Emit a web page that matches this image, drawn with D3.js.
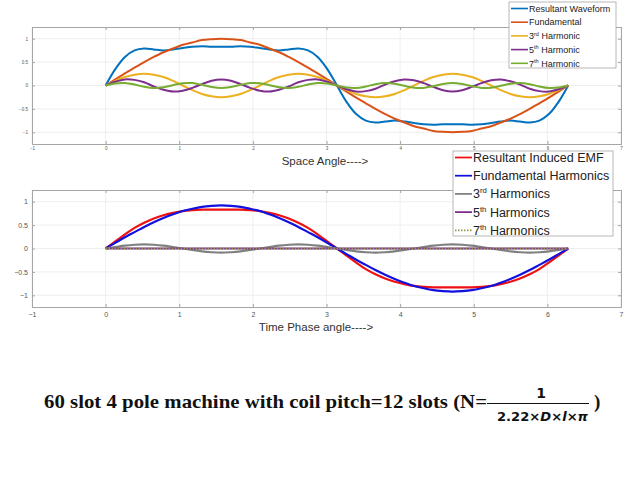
<!DOCTYPE html>
<html>
<head>
<meta charset="utf-8">
<script src="https://cdn.jsdelivr.net/npm/d3@7"></script>
<style>
  body { margin: 0; background: #fff; }
  svg { display: block; font-family: "Liberation Sans", Arial, sans-serif; }
</style>
</head>
<body>
<svg id="chart" width="638" height="478"></svg>
<script>
// angle samples (rad), step pi/24 from 0 to 2*pi
var angles = [0, 0.131, 0.262, 0.393, 0.524, 0.654, 0.785, 0.916, 1.047, 1.178, 1.309, 1.44, 1.571,
  1.702, 1.833, 1.963, 2.094, 2.225, 2.356, 2.487, 2.618, 2.749, 2.88, 3.011, 3.142,
  3.272, 3.403, 3.534, 3.665, 3.796, 3.927, 4.058, 4.189, 4.32, 4.451, 4.581, 4.712,
  4.843, 4.974, 5.105, 5.236, 5.367, 5.498, 5.629, 5.76, 5.891, 6.021, 6.152, 6.283];

// top plot: space distribution
var resultantWave = [0, 0.35, 0.61, 0.75, 0.79, 0.77, 0.75, 0.77, 0.80, 0.83, 0.84, 0.83, 0.83,
  0.83, 0.84, 0.83, 0.80, 0.77, 0.75, 0.77, 0.79, 0.75, 0.61, 0.35, 0,
  -0.35, -0.61, -0.75, -0.79, -0.77, -0.75, -0.77, -0.80, -0.83, -0.84, -0.83, -0.83,
  -0.83, -0.84, -0.83, -0.80, -0.77, -0.75, -0.77, -0.79, -0.75, -0.61, -0.35, 0];
var fundamental = [0, 0.13, 0.26, 0.38, 0.50, 0.61, 0.71, 0.79, 0.87, 0.92, 0.97, 0.99, 1.00,
  0.99, 0.97, 0.92, 0.87, 0.79, 0.71, 0.61, 0.50, 0.38, 0.26, 0.13, 0,
  -0.13, -0.26, -0.38, -0.50, -0.61, -0.71, -0.79, -0.87, -0.92, -0.97, -0.99, -1.00,
  -0.99, -0.97, -0.92, -0.87, -0.79, -0.71, -0.61, -0.50, -0.38, -0.26, -0.13, 0];
var harmonic3 = [0, 0.10, 0.18, 0.23, 0.25, 0.23, 0.18, 0.10, 0, -0.10, -0.18, -0.23, -0.25,
  -0.23, -0.18, -0.10, 0, 0.10, 0.18, 0.23, 0.25, 0.23, 0.18, 0.10, 0,
  -0.10, -0.18, -0.23, -0.25, -0.23, -0.18, -0.10, 0, 0.10, 0.18, 0.23, 0.25,
  0.23, 0.18, 0.10, 0, -0.10, -0.18, -0.23, -0.25, -0.23, -0.18, -0.10, 0];
var harmonic5 = [0, 0.08, 0.13, 0.12, 0.07, -0.02, -0.09, -0.13, -0.11, -0.05, 0.03, 0.10, 0.13,
  0.10, 0.03, -0.05, -0.11, -0.13, -0.09, -0.02, 0.07, 0.12, 0.13, 0.08, 0,
  -0.08, -0.13, -0.12, -0.07, 0.02, 0.09, 0.13, 0.11, 0.05, -0.03, -0.10, -0.13,
  -0.10, -0.03, 0.05, 0.11, 0.13, 0.09, 0.02, -0.07, -0.12, -0.13, -0.08, 0];
var harmonic7 = [0, 0.044, 0.053, 0.021, -0.028, -0.055, -0.039, 0.007, 0.048, 0.051, 0.014, -0.033, -0.055,
  -0.033, 0.014, 0.051, 0.048, 0.007, -0.039, -0.055, -0.028, 0.021, 0.053, 0.044, 0,
  -0.044, -0.053, -0.021, 0.028, 0.055, 0.039, -0.007, -0.048, -0.051, -0.014, 0.033, 0.055,
  0.033, -0.014, -0.051, -0.048, -0.007, 0.039, 0.055, 0.028, -0.021, -0.053, -0.044, 0];

// bottom plot: induced emf vs time phase
var emfResultant = [0, 0.15, 0.30, 0.44, 0.55, 0.64, 0.71, 0.76, 0.80, 0.82, 0.83, 0.83, 0.83,
  0.83, 0.83, 0.82, 0.80, 0.76, 0.71, 0.64, 0.55, 0.44, 0.30, 0.15, 0,
  -0.15, -0.30, -0.44, -0.55, -0.64, -0.71, -0.76, -0.80, -0.82, -0.83, -0.83, -0.83,
  -0.83, -0.83, -0.82, -0.80, -0.76, -0.71, -0.64, -0.55, -0.44, -0.30, -0.15, 0];
var emfFundamental = [0, 0.12, 0.24, 0.35, 0.46, 0.56, 0.65, 0.73, 0.80, 0.85, 0.89, 0.91, 0.92,
  0.91, 0.89, 0.85, 0.80, 0.73, 0.65, 0.56, 0.46, 0.35, 0.24, 0.12, 0,
  -0.12, -0.24, -0.35, -0.46, -0.56, -0.65, -0.73, -0.80, -0.85, -0.89, -0.91, -0.92,
  -0.91, -0.89, -0.85, -0.80, -0.73, -0.65, -0.56, -0.46, -0.35, -0.24, -0.12, 0];
var emf3 = [0, 0.03, 0.06, 0.08, 0.09, 0.08, 0.06, 0.03, 0, -0.03, -0.06, -0.08, -0.09,
  -0.08, -0.06, -0.03, 0, 0.03, 0.06, 0.08, 0.09, 0.08, 0.06, 0.03, 0,
  -0.03, -0.06, -0.08, -0.09, -0.08, -0.06, -0.03, 0, 0.03, 0.06, 0.08, 0.09,
  0.08, 0.06, 0.03, 0, -0.03, -0.06, -0.08, -0.09, -0.08, -0.06, -0.03, 0];
var emf5 = [0, 0, 0, 0, 0, 0, 0, 0, 0, 0, 0, 0, 0, 0, 0, 0, 0, 0, 0, 0, 0, 0, 0, 0, 0,
  0, 0, 0, 0, 0, 0, 0, 0, 0, 0, 0, 0, 0, 0, 0, 0, 0, 0, 0, 0, 0, 0, 0, 0];
var emf7 = [0, 0, 0, 0, 0, 0, 0, 0, 0, 0, 0, 0, 0, 0, 0, 0, 0, 0, 0, 0, 0, 0, 0, 0, 0,
  0, 0, 0, 0, 0, 0, 0, 0, 0, 0, 0, 0, 0, 0, 0, 0, 0, 0, 0, 0, 0, 0, 0, 0];

var xTicks = [-1, 0, 1, 2, 3, 4, 5, 6, 7];
var yTicks = [-1, -0.5, 0, 0.5, 1];

var topSeries = [
  {name: "Resultant Waveform", values: resultantWave, color: "#0072BD"},
  {name: "Fundamental", values: fundamental, color: "#D95319"},
  {name: "3", sup: "rd", rest: " Harmonic", values: harmonic3, color: "#EDB120"},
  {name: "5", sup: "th", rest: " Harmonic", values: harmonic5, color: "#7E2F8E"},
  {name: "7", sup: "th", rest: " Harmonic", values: harmonic7, color: "#77AC30"}
];
var bottomSeries = [
  {name: "Resultant Induced EMF", values: emfResultant, color: "#ee1111"},
  {name: "Fundamental Harmonics", values: emfFundamental, color: "#1010e0"},
  {name: "3", sup: "rd", rest: " Harmonics", values: emf3, color: "#808080"},
  {name: "5", sup: "th", rest: " Harmonics", values: emf5, color: "#7E2F8E"},
  {name: "7", sup: "th", rest: " Harmonics", values: emf7, color: "#8f9a50", dash: "1.5,1.5"}
];

var svg = d3.select("#chart");

function drawPanel(opt) {
  var x = d3.scaleLinear().domain([-1, 7]).range([opt.left, opt.right]);
  var y = d3.scaleLinear().domain([-1.25, 1.25]).range([opt.bottom, opt.top]);
  var g = svg.append("g");

  // grid
  g.selectAll(".gx").data(xTicks).enter().append("line")
    .attr("x1", function(d) { return x(d); }).attr("x2", function(d) { return x(d); })
    .attr("y1", opt.top).attr("y2", opt.bottom)
    .attr("stroke", "#ebebeb").attr("stroke-width", 0.8);
  g.selectAll(".gy").data(yTicks).enter().append("line")
    .attr("x1", opt.left).attr("x2", opt.right)
    .attr("y1", function(d) { return y(d); }).attr("y2", function(d) { return y(d); })
    .attr("stroke", "#ebebeb").attr("stroke-width", 0.8);

  // axes with inward ticks
  var xAxis = g.append("g").attr("transform", "translate(0," + opt.bottom + ")")
    .call(d3.axisBottom(x).tickValues(xTicks).tickSize(-3).tickPadding(opt.xPad).tickFormat(d3.format("d")));
  var xTop = g.append("g").attr("transform", "translate(0," + opt.top + ")")
    .call(d3.axisTop(x).tickValues(xTicks).tickSize(-3).tickFormat(""));
  var yAxis = g.append("g").attr("transform", "translate(" + opt.left + ",0)")
    .call(d3.axisLeft(y).tickValues(yTicks).tickSize(-3).tickPadding(opt.yPad).tickFormat(d3.format("")));
  var yRight = g.append("g").attr("transform", "translate(" + opt.right + ",0)")
    .call(d3.axisRight(y).tickValues(yTicks).tickSize(-3).tickFormat(""));
  [xAxis, xTop, yAxis, yRight].forEach(function(a) {
    a.select(".domain").attr("stroke", "#a6a6a6");
    a.selectAll(".tick line").attr("stroke", "#a6a6a6");
    a.selectAll("text").attr("fill", "#555").style("font-size", opt.tickFont + "px")
      .style("font-family", "'Liberation Sans', Arial, sans-serif");
  });

  var line = d3.line()
    .x(function(d, i) { return x(angles[i]); })
    .y(function(d) { return y(d); })
    .curve(d3.curveCatmullRom.alpha(0.5));

  g.selectAll(".series").data(opt.series).enter().append("path")
    .attr("d", function(s) { return line(s.values); })
    .attr("fill", "none")
    .attr("stroke", function(s) { return s.color; })
    .attr("stroke-width", opt.lineWidth)
    .attr("stroke-dasharray", function(s) { return s.dash || null; });

  // axis label
  g.append("text")
    .attr("x", opt.labelX).attr("y", opt.labelY)
    .attr("text-anchor", "middle")
    .attr("fill", "#333").style("font-size", "11.5px")
    .text(opt.label);

  // legend
  var lg = opt.legend;
  g.append("rect")
    .attr("x", lg.x).attr("y", lg.y).attr("width", lg.w).attr("height", lg.h)
    .attr("fill", "#fff").attr("stroke", "#a6a6a6").attr("stroke-width", 0.8);
  var item = g.selectAll(".legend").data(opt.series).enter().append("g")
    .attr("transform", function(d, i) { return "translate(" + lg.x + "," + (lg.y + lg.first + i * lg.step) + ")"; });
  item.append("line")
    .attr("x1", 2).attr("x2", lg.sample).attr("y1", 0).attr("y2", 0)
    .attr("stroke", function(s) { return s.color; })
    .attr("stroke-width", opt.lineWidth * 0.8)
    .attr("stroke-dasharray", function(s) { return s.dash || null; });
  var txt = item.append("text")
    .attr("x", lg.sample + 1).attr("y", lg.font * 0.36)
    .attr("fill", "#222").style("font-size", lg.font + "px");
  txt.each(function(s) {
    var t = d3.select(this);
    if (s.sup) {
      t.append("tspan").text(s.name);
      t.append("tspan").attr("dy", -lg.font * 0.4).style("font-size", (lg.font * 0.62) + "px").text(s.sup);
      t.append("tspan").attr("dy", lg.font * 0.4).text(s.rest);
    } else {
      t.text(s.name);
    }
  });
}

drawPanel({
  left: 32, right: 621, top: 27, bottom: 144,
  series: topSeries, lineWidth: 2, tickFont: 4.5, xPad: 3, yPad: 4,
  label: "Space Angle---->", labelX: 325, labelY: 165,
  legend: {x: 509, y: 2, w: 107, h: 66, first: 6.5, step: 13.7, sample: 19, font: 9}
});

drawPanel({
  left: 32, right: 621, top: 190, bottom: 307,
  series: bottomSeries, lineWidth: 2.2, tickFont: 7, xPad: 5, yPad: 4,
  label: "Time Phase angle---->", labelX: 316, labelY: 331,
  legend: {x: 453, y: 151, w: 160, h: 85, first: 6.5, step: 18.2, sample: 19, font: 12.5}
});

// caption
var cap = svg.append("g").style("font-family", "'Liberation Serif', 'Times New Roman', serif").style("font-weight", "bold");
cap.append("text").attr("x", 44).attr("y", 408).style("font-size", "19px").attr("fill", "#111")
  .attr("textLength", 443).attr("lengthAdjust", "spacingAndGlyphs")
  .text("60 slot 4 pole machine with coil pitch=12 slots (N=");
cap.append("line").attr("x1", 487).attr("x2", 589).attr("y1", 403.5).attr("y2", 403.5)
  .attr("stroke", "#111").attr("stroke-width", 1);
cap.append("text").attr("x", 541).attr("y", 398).attr("text-anchor", "middle")
  .style("font-size", "14px").style("font-family", "'DejaVu Sans', sans-serif").attr("fill", "#111").text("1");
var den = cap.append("text").attr("x", 497).attr("y", 421)
  .attr("textLength", 91).attr("lengthAdjust", "spacingAndGlyphs")
  .style("font-size", "13px").style("font-family", "'DejaVu Sans', sans-serif").attr("fill", "#111");
den.append("tspan").text("2.22×");
den.append("tspan").style("font-style", "italic").text("D");
den.append("tspan").text("×");
den.append("tspan").style("font-style", "italic").text("l");
den.append("tspan").text("×");
den.append("tspan").style("font-style", "italic").text("π");
cap.append("text").attr("x", 594).attr("y", 408).style("font-size", "19px").attr("fill", "#111").text(")");
</script>
</body>
</html>
